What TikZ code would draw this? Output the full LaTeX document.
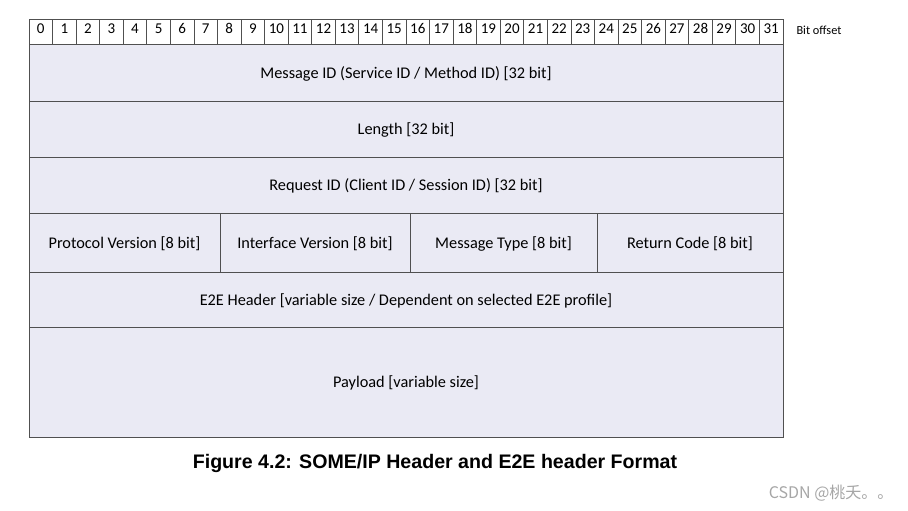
\documentclass[tikz,border=0pt]{standalone}
\usepackage{fontspec}
\setmainfont{Carlito}
\newfontfamily\capfont{Liberation Sans}
\newfontfamily\cjkfont{Noto Sans CJK SC}

\definecolor{rowfill}{HTML}{EAEAF4}
\definecolor{edge}{HTML}{505050}

\tikzset{
	bitcell/.style={draw=edge, fill=white, rectangle, anchor=north west,
		minimum width=23.5625pt, minimum height=25pt, inner sep=0pt,
		outer sep=0pt, line width=0.8pt, text height=0.65em, text depth=0.15em,
		font=\fontsize{15}{15}\selectfont},
	field/.style={draw=edge, fill=rowfill, rectangle, anchor=north west,
		minimum width=754pt, inner sep=0pt, outer sep=0pt, line width=0.8pt,
		text height=1.2em, text depth=0.05em,
		font=\fontsize{16.3}{16.3}\selectfont}
}

\begin{document}
\begin{tikzpicture}[x=1pt, y=-1pt]
	\def \bitw {23.5625}
	\useasboundingbox (0,0) rectangle (908,511);

	% bit offset ruler
	\foreach \b in {0,...,31}
		\node[bitcell] (bit\b) at ({29 + \bitw * \b},19) {\b};
	\node[anchor=west, font=\fontsize{12.3}{12.3}\selectfont] (offset) at (793,30)
		{Bit offset};

	% header fields
	\node[field, minimum height=57pt] (msgid)   at (29,44)
		{Message ID (Service ID / Method ID) [32 bit]};
	\node[field, minimum height=56pt] (length)  at (msgid.south west)
		{Length [32 bit]};
	\node[field, minimum height=56pt] (request) at (length.south west)
		{Request ID (Client ID / Session ID) [32 bit]};

	\node[field, minimum width=191pt, minimum height=59pt] (protover)
		at (request.south west) {Protocol Version [8 bit]};
	\node[field, minimum width=190pt, minimum height=59pt] (ifver)
		at (protover.north east) {Interface Version [8 bit]};
	\node[field, minimum width=187pt, minimum height=59pt] (msgtype)
		at (ifver.north east) {Message Type [8 bit]};
	\node[field, minimum width=186pt, minimum height=59pt] (retcode)
		at (msgtype.north east) {Return Code [8 bit]};

	\node[field, minimum height=55pt] (e2e)     at (protover.south west)
		{E2E Header [variable size / Dependent on selected E2E profile]};
	\node[field, minimum height=110pt] (payload) at (e2e.south west)
		{Payload [variable size]};

	% caption
	\node[font=\capfont\bfseries\fontsize{19.6}{19.6}\selectfont] (caption)
		at (435,463) {Figure 4.2: SOME/IP Header and E2E header Format};
	\node[anchor=east, text=gray!70, font=\cjkfont\fontsize{16}{16}\selectfont]
		(mark) at (897,493) {CSDN @桃夭。。};
\end{tikzpicture}
\end{document}
